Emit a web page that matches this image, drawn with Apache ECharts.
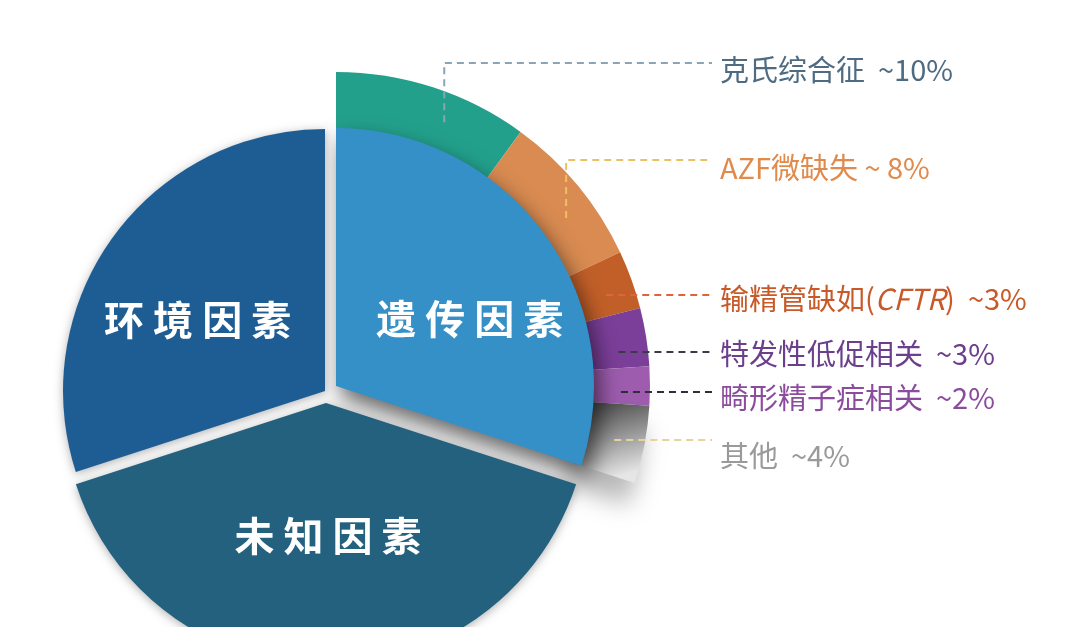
<!DOCTYPE html>
<html><head><meta charset="utf-8">
<script src="https://cdn.jsdelivr.net/npm/echarts@6/dist/echarts.min.js"></script>
<style>html,body{margin:0;padding:0;background:#fff}#c{width:1080px;height:627px}</style>
</head><body><div id="c"></div>
<script>
// ---- data ----
const mainNames = ['遗传因素', '未知因素', '环境因素'];
const mainValues = [30, 40, 30];
const subNames = ['克氏综合征', 'AZF微缺失', '输精管缺如(CFTR)', '特发性低促相关', '畸形精子症相关', '其他'];
const subValues = [10, 8, 3, 3, 2, 4];
const subPctLabels = [' ~10%', '~ 8%', ' ~3%', ' ~3%', ' ~2%', ' ~4%'];

// ---- style / layout ----
const FONT = '"Noto Sans CJK SC","Noto Sans",sans-serif';
const mainColors = ['#3490c7', '#23617f', '#1e5d94'];
const mainCenters = [[336, 386], [326, 403], [325, 391]];
const mainRadii = [258, 263, 262];
const mainLabelShift = [[27, 10], [2, -2], [-19, 8]];
const subColors = ['#22a08b', '#d98b51', '#c25f28', '#7b3e99', '#9d5cae',
  {type: 'linear', x: 0, y: 0, x2: 0.3, y2: 1, colorStops: [{offset: 0, color: '#3a3a3a'}, {offset: 1, color: '#e6e6e6'}]}];
const subShadow = [null, null, null, null, null,
  {shadowColor: 'rgba(0,0,0,0.28)', shadowBlur: 24, shadowOffsetX: -6, shadowOffsetY: 22}];
const subTextColors = ['#4f6b82', '#e08a4c', '#c85a2a', '#6b3f8c', '#8c4c9e', '#9a9a9a'];
const subLineColors = ['#8aa4b8', '#ecc067', '#e0643a', '#3a3a48', '#2e2e3a', '#e6d29a'];
const ringCenter = [336, 386];
const ringRadius = [250, 314];
const anchorR = 285;
const anchorFrac = 0.62;
const labelX = 720;
const labelY = [70, 168, 299, 354, 398, 456];
const lineY = [63, 160, 295, 352, 392, 440];

const total = mainValues.reduce((a, b) => a + b, 0);
const transparent = {color: 'rgba(0,0,0,0)', shadowBlur: 0};
const restValue = total - subValues.reduce((a, b) => a + b, 0);

function mainSeries(idx) {
  return {
    type: 'pie', silent: true, startAngle: 90, clockwise: true,
    center: mainCenters[idx], radius: [0, mainRadii[idx]],
    avoidLabelOverlap: false,
    label: {
      show: true, position: 'inside', color: '#fff', fontFamily: FONT,
      fontSize: 40, fontWeight: 'bold',
      formatter: p => p.name.split('').join(' ')
    },
    labelLine: {show: false},
    labelLayout: p => ({dx: mainLabelShift[idx][0], dy: mainLabelShift[idx][1]}),
    data: mainNames.map((n, i) => ({
      name: n, value: mainValues[i],
      itemStyle: i === idx ? {
        color: mainColors[i],
        shadowColor: idx === 0 ? 'rgba(0,0,0,0.6)' : 'rgba(0,0,0,0.3)',
        shadowBlur: idx === 0 ? 22 : 10,
        shadowOffsetX: idx === 0 ? 5 : 0,
        shadowOffsetY: idx === 0 ? 12 : 2
      } : transparent,
      label: {show: i === idx}
    }))
  };
}

// ring of sub-causes (shapes only)
const ringShapes = {
  type: 'pie', silent: true, startAngle: 90, clockwise: true, z: 2,
  center: ringCenter, radius: ringRadius, avoidLabelOverlap: false,
  label: {show: false}, labelLine: {show: false},
  data: subNames.map((n, i) => ({name: n, value: subValues[i],
      itemStyle: Object.assign({color: subColors[i]}, subShadow[i] || {})}))
    .concat([{name: 'rest', value: restValue, itemStyle: transparent}])
};

// same ring, invisible, carrying labels and leader lines on top
const ringLabels = {
  type: 'pie', silent: true, startAngle: 90, clockwise: true, z: 5,
  center: ringCenter, radius: ringRadius, avoidLabelOverlap: false,
  label: {
    show: true, position: 'outside', fontFamily: FONT, fontSize: 29,
    formatter: p => p.name.replace('CFTR', '{i|CFTR}') + ' ' + subPctLabels[p.dataIndex]
  },
  labelLine: {show: true, showAbove: true, length: 10, length2: 10, lineStyle: {type: [7, 5], width: 2}},
  labelLayout: function (p) {
    const i = p.dataIndex;
    if (i >= subNames.length) return {};
    let cum = 0;
    for (let k = 0; k < i; k++) cum += subValues[k];
    cum += subValues[i] * anchorFrac;
    const ang = cum / total * Math.PI * 2;
    const ax = ringCenter[0] + anchorR * Math.sin(ang);
    const ay = ringCenter[1] - anchorR * Math.cos(ang);
    const ly = lineY[i];
    const pts = Math.abs(ay - ly) > 30
      ? [[ax, ay], [ax, ly], [labelX - 8, ly]]
      : [[ax, ly], [(ax + labelX) / 2, ly], [labelX - 8, ly]];
    return {x: labelX, y: labelY[i], align: 'left', verticalAlign: 'middle', labelLinePoints: pts};
  },
  data: subNames.map((n, i) => ({
    name: n, value: subValues[i],
    itemStyle: transparent,
    label: {color: subTextColors[i], rich: {i: {fontStyle: 'italic', color: subTextColors[i], fontSize: 29, fontFamily: FONT}}},
    labelLine: {lineStyle: {color: subLineColors[i]}}
  })).concat([{
    name: 'rest', value: restValue,
    itemStyle: transparent, label: {show: false}, labelLine: {show: false}
  }])
};

const chart = echarts.init(document.getElementById('c'));
chart.setOption({
  backgroundColor: '#ffffff',
  animation: false,
  series: [ringShapes, mainSeries(0), mainSeries(2), mainSeries(1), ringLabels]
});
</script></body></html>
